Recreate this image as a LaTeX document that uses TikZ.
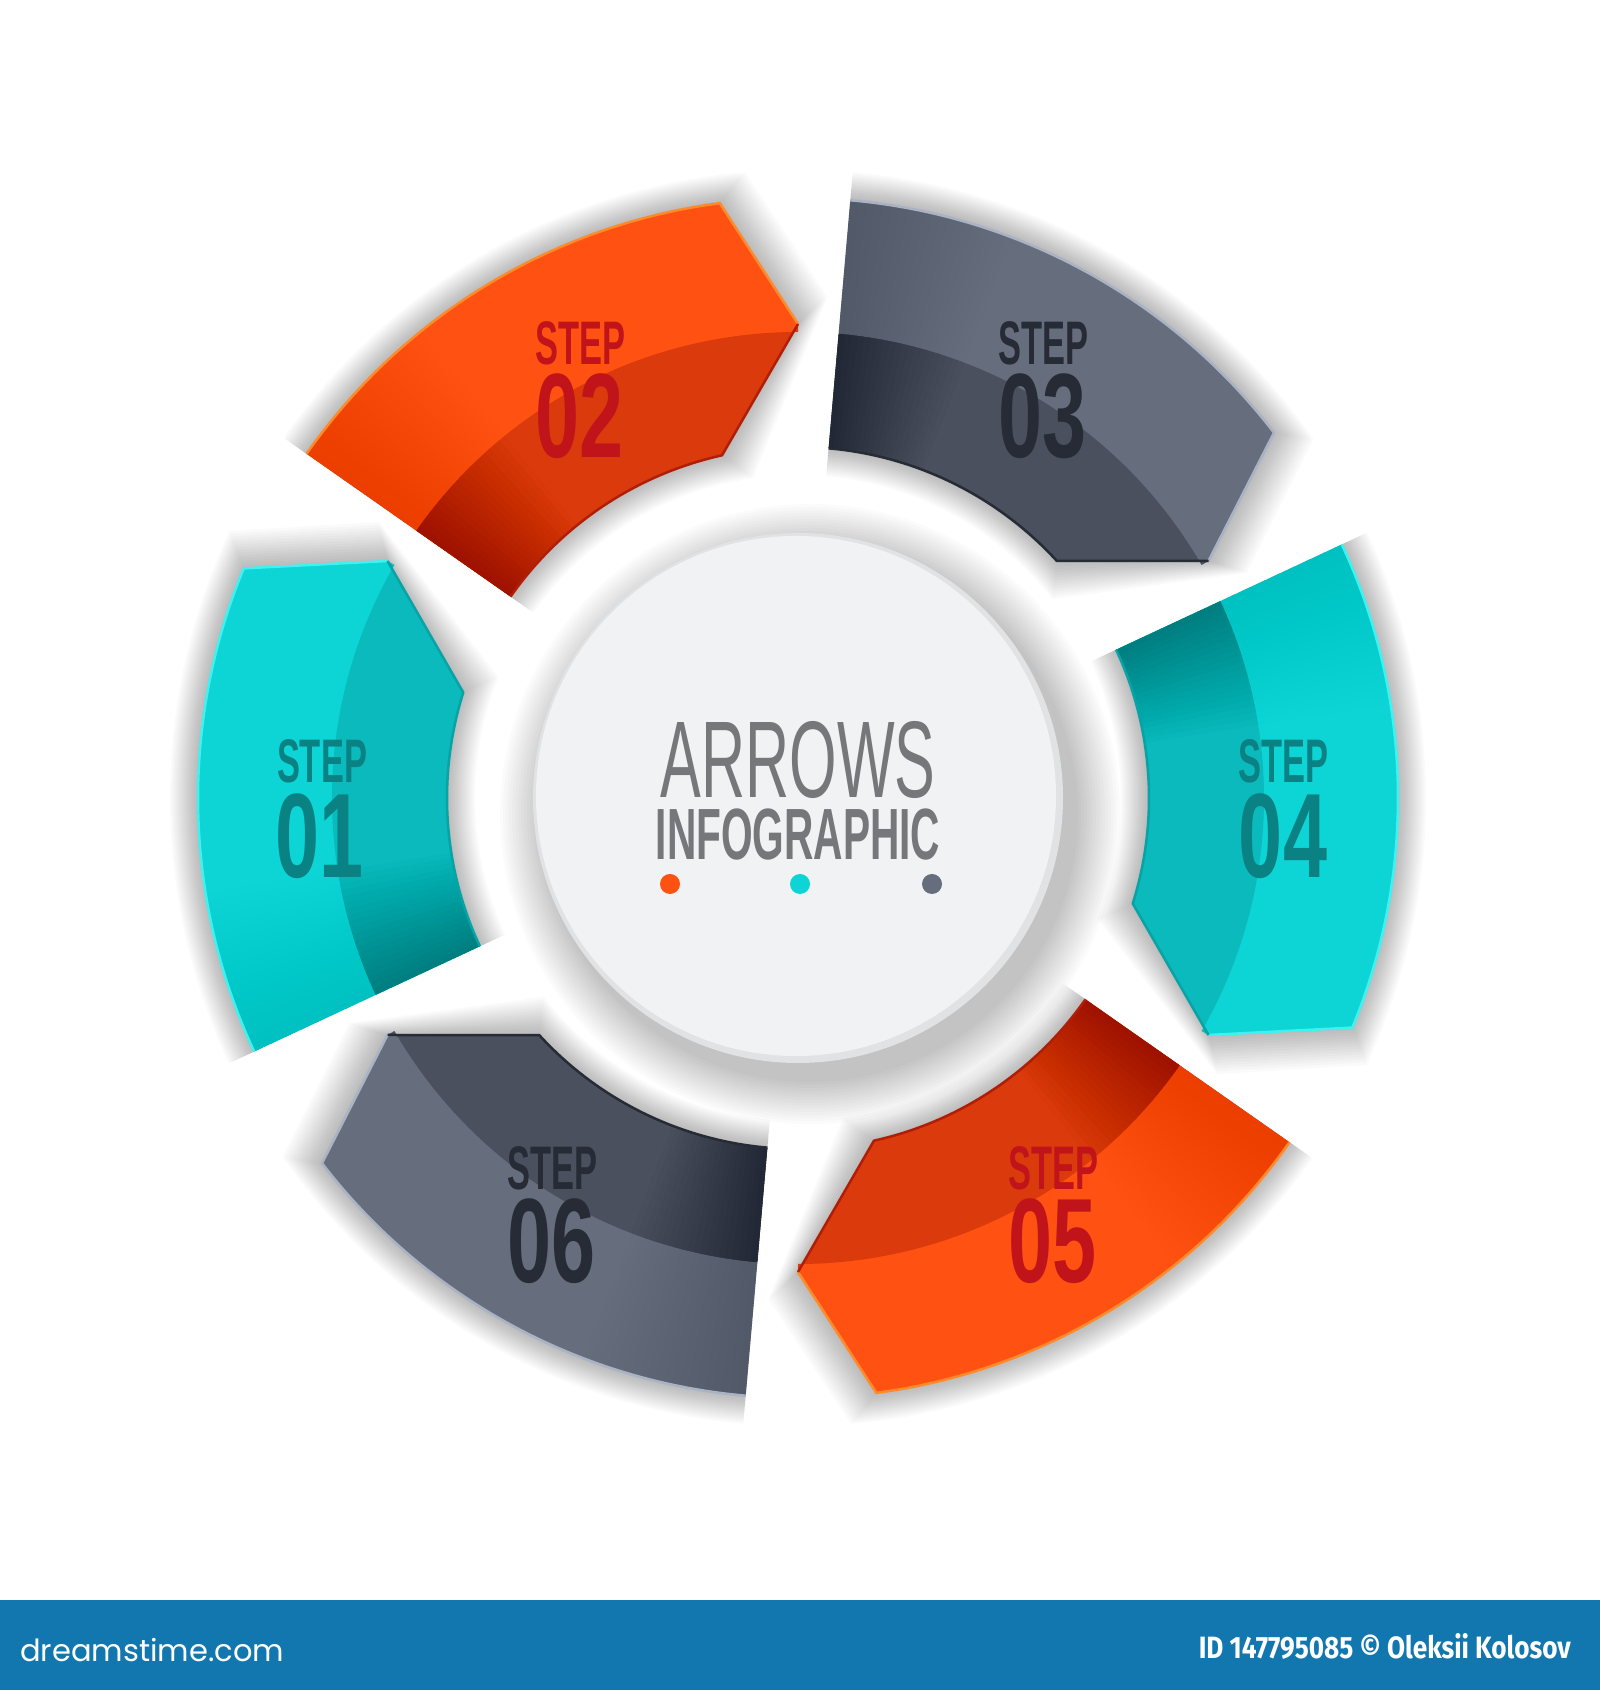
\documentclass[tikz,border=0pt]{standalone}
\usepackage{fontspec}
\usepackage{graphicx}
\setmainfont{Liberation Sans}
\newfontfamily\tfont[FakeStretch=0.56]{Liberation Sans}
\newfontfamily\nfont[FakeStretch=0.66]{Liberation Sans}
\newfontfamily\bannerfont{Poppins}
\newfontfamily\idfont[FakeStretch=0.85]{Fira Sans}
\definecolor{orgL}{HTML}{FF5212}
\definecolor{orgD}{HTML}{DB3A0C}
\definecolor{orgE}{HTML}{FF8A2A}
\definecolor{orgI}{HTML}{B01E08}
\definecolor{orgT}{HTML}{C0141A}
\definecolor{gryL}{HTML}{666E7E}
\definecolor{gryD}{HTML}{4A505D}
\definecolor{gryE}{HTML}{A9B3C4}
\definecolor{gryI}{HTML}{262B35}
\definecolor{gryT}{HTML}{262B36}
\definecolor{cyaL}{HTML}{0DD5D5}
\definecolor{cyaD}{HTML}{0ABABC}
\definecolor{cyaE}{HTML}{3FF2F2}
\definecolor{cyaI}{HTML}{08A3A5}
\definecolor{cyaT}{HTML}{0A8183}
\definecolor{titleC}{HTML}{76777B}
\definecolor{bannerC}{HTML}{1277AF}
\definecolor{disk}{HTML}{F1F2F3}
\definecolor{diskrim}{HTML}{E1E2E4}
\tikzset{
  steplbl/.style={inner sep=0pt, text height=44pt, text depth=0pt, font=\tfont\bfseries\fontsize{61.5}{62}\selectfont},
  numlbl/.style={inner sep=0pt, text height=86pt, text depth=0pt, font=\nfont\bfseries\fontsize{120}{120}\selectfont},
  dotnode/.style={circle, inner sep=0pt, minimum size=20pt},
  shadowlayer/.style={fill=black, opacity=0.021}
}
\begin{document}
\begin{tikzpicture}[x=1pt,y=1pt]
\useasboundingbox (0,0) rectangle (1600,1690);
\fill[white] (0,0) rectangle (1600,1690);
\def\Ro{600}\def\Ri{351}\def\Rt{474}\def\Rm{466}
\begin{scope}[shift={(798,892)}]
  % center disk soft shadow
  \foreach \e in {3,6,...,45}{
    \fill[black, opacity=0.014] (12,-16) circle ({265+\e});
  }
  % segment shadows, clipped at the tail line
  \foreach \T in {205,145,85,25,-35,-95}{
    \begin{scope}
      \clip (0,0) -- (\T:1100) arc[start angle=\T, end angle=\T-100, radius=1100] -- cycle;
      \foreach \e in {2,4,...,28}{
        \fill[shadowlayer] (\T+10:\Ro+\e) arc[start angle=\T+10, end angle=\T-47.5-0.095*\e, radius=\Ro+\e]
          -- (\T-55-0.12*\e:\Rt+\e) -- (\T-42.5-0.16*\e:\Ri-\e)
          arc[start angle=\T-42.5-0.16*\e, end angle=\T+10, radius=\Ri-\e] -- cycle;
      }
    \end{scope}
  }
  % center disk
  \fill[diskrim] (0,0) circle (265);
  \fill[disk] (-2,2) circle (260);
  % segments
  \foreach \T/\cL/\cD/\cE/\cI in {205/cyaL/cyaD/cyaE/cyaI, 145/orgL/orgD/orgE/orgI, 85/gryL/gryD/gryE/gryI, 25/cyaL/cyaD/cyaE/cyaI, -35/orgL/orgD/orgE/orgI, -95/gryL/gryD/gryE/gryI}{
    \fill[\cL] (\T:\Ro) arc[start angle=\T, end angle=\T-47.5, radius=\Ro]
      -- (\T-55:\Rt) -- (\T-42.5:\Ri)
      arc[start angle=\T-42.5, end angle=\T, radius=\Ri] -- cycle;
    \fill[\cD] (\T:\Ri) -- (\T:\Rm) arc[start angle=\T, end angle=\T-55, radius=\Rm]
      -- (\T-55:\Rt) -- (\T-42.5:\Ri)
      arc[start angle=\T-42.5, end angle=\T, radius=\Ri] -- cycle;
    % smooth darkening toward the tail, mostly on the inner band
    \foreach \k in {1,...,20}{
      \fill[black, opacity=0.005] (\T:\Ri) -- (\T:\Ro) arc[start angle=\T, end angle=\T-0.8*\k, radius=\Ro]
        -- (\T-0.8*\k:\Ri) arc[start angle=\T-0.8*\k, end angle=\T, radius=\Ri] -- cycle;
      \fill[black, opacity=0.006] (\T:\Ri) -- (\T:\Rm) arc[start angle=\T, end angle=\T-0.8*\k, radius=\Rm]
        -- (\T-0.8*\k:\Ri) arc[start angle=\T-0.8*\k, end angle=\T, radius=\Ri] -- cycle;
    }
    \draw[\cE, line width=2.5pt, line join=round] (\T:\Ro) arc[start angle=\T, end angle=\T-47.5, radius=\Ro] -- (\T-55:\Rt);
    \draw[\cI, line width=2.5pt, line join=round] (\T-55:\Rt) -- (\T-42.5:\Ri) arc[start angle=\T-42.5, end angle=\T, radius=\Ri];
  }
\end{scope}
% step labels
\node[steplbl, text=cyaT] (s1) at (322,929) {STEP};
\node[numlbl, text=cyaT] (n1) at (320,855) {01};
\node[steplbl, text=orgT] (s2) at (580,1347) {STEP};
\node[numlbl, text=orgT] (n2) at (580,1275) {02};
\node[steplbl, text=gryT] (s3) at (1043,1347) {STEP};
\node[numlbl, text=gryT] (n3) at (1043,1275) {03};
\node[steplbl, text=cyaT] (s4) at (1283,929) {STEP};
\node[numlbl, text=cyaT] (n4) at (1283,855) {04};
\node[steplbl, text=orgT] (s5) at (1053,522) {STEP};
\node[numlbl, text=orgT] (n5) at (1053,450) {05};
\node[steplbl, text=gryT] (s6) at (552,522) {STEP};
\node[numlbl, text=gryT] (n6) at (552,450) {06};
% title
\node[inner sep=0pt, text height=78pt, text depth=0pt, text=titleC, font=\tfont\fontsize{109}{110}\selectfont] (t1) at (798,931) {ARROWS};
\node[inner sep=0pt, text height=52pt, text depth=0pt, text=titleC, font=\tfont\bfseries\fontsize{72.6}{73}\selectfont] (t2) at (798,856) {INFOGRAPHIC};
\node[dotnode, fill=orgL] (d1) at (670,806) {};
\node[dotnode, fill=cyaL] (d2) at (800,806) {};
\node[dotnode, fill=gryL] (d3) at (932,806) {};
% banner
\fill[bannerC] (0,0) rectangle (1600,90);
\node[inner sep=0pt, anchor=west, text=white] (b1) at (20,40) {\resizebox{264pt}{!}{\bannerfont dreamstime.com}};
\node[inner sep=0pt, anchor=east, text=white] (b2) at (1571,44) {\resizebox{372pt}{!}{\idfont\bfseries ID 147795085 © Oleksii Kolosov}};
\end{tikzpicture}
\end{document}
